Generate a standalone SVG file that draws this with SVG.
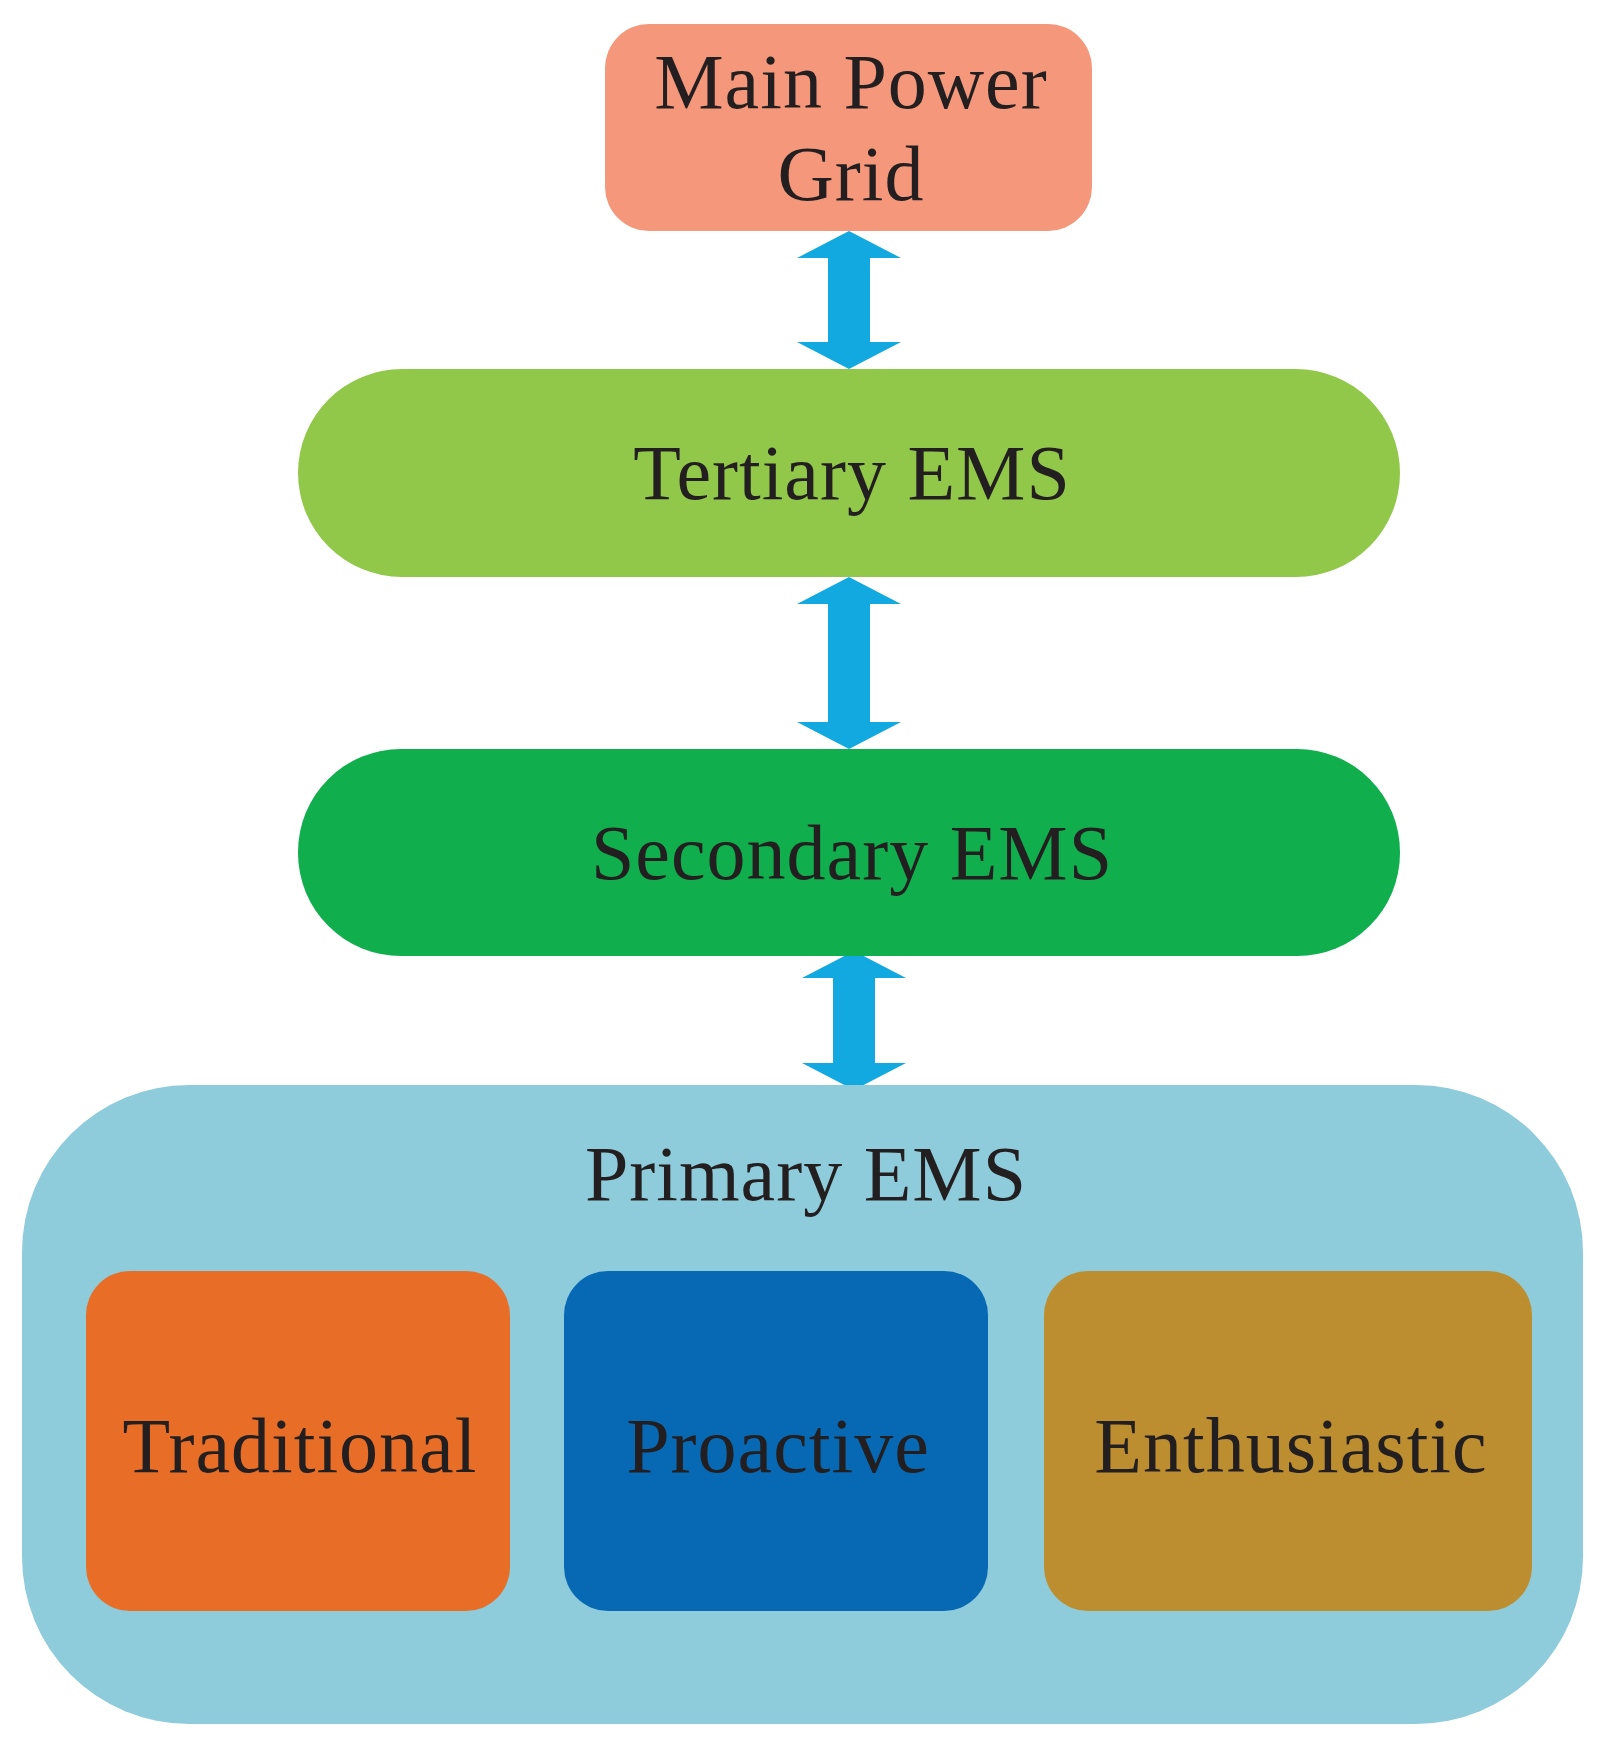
<svg xmlns="http://www.w3.org/2000/svg" width="1606" height="1746" viewBox="0 0 1606 1746">
<style>
text{font-family:"Liberation Serif","Times New Roman",serif;font-size:78px;fill:#231F20;text-anchor:middle;letter-spacing:1px}
.arr{fill:#12A9E1}
</style>
<rect width="1606" height="1746" fill="#fff"/>
<g id="connectors">
<path class="arr" d="M849,231 L901,258 L870,258 L870,342 L901,342 L849,369 L797,342 L828,342 L828,258 L797,258 Z"/>
<path class="arr" d="M849,577 L901,604 L870,604 L870,722 L901,722 L849,749 L797,722 L828,722 L828,604 L797,604 Z"/>
<path class="arr" d="M854,951 L906,978 L875,978 L875,1063 L906,1063 L854,1090 L802,1063 L833,1063 L833,978 L802,978 Z"/>
</g>
<g id="main"><rect x="605" y="24" width="487" height="207" rx="44" fill="#F4977A"/><text x="851" y="108">Main Power</text><text x="851" y="200">Grid</text></g>
<g id="tertiary"><rect x="298" y="369" width="1102" height="208" rx="104" fill="#92C84A"/><text x="852" y="499">Tertiary EMS</text></g>
<g id="secondary"><rect x="298" y="749" width="1102" height="207" rx="103" fill="#10AE4D"/><text x="852" y="879">Secondary EMS</text></g>
<g id="primary"><rect x="22" y="1085" width="1561" height="639" rx="167" fill="#8FCCDB"/><text x="806" y="1200">Primary EMS</text></g>
<g id="traditional"><rect x="86" y="1271" width="424" height="340" rx="44" fill="#E86E28"/><text x="300" y="1472">Traditional</text></g>
<g id="proactive"><rect x="564" y="1271" width="424" height="340" rx="44" fill="#0769B4"/><text x="778" y="1472">Proactive</text></g>
<g id="enthusiastic"><rect x="1044" y="1271" width="488" height="340" rx="44" fill="#BD8E2F"/><text x="1291" y="1472">Enthusiastic</text></g>
</svg>
